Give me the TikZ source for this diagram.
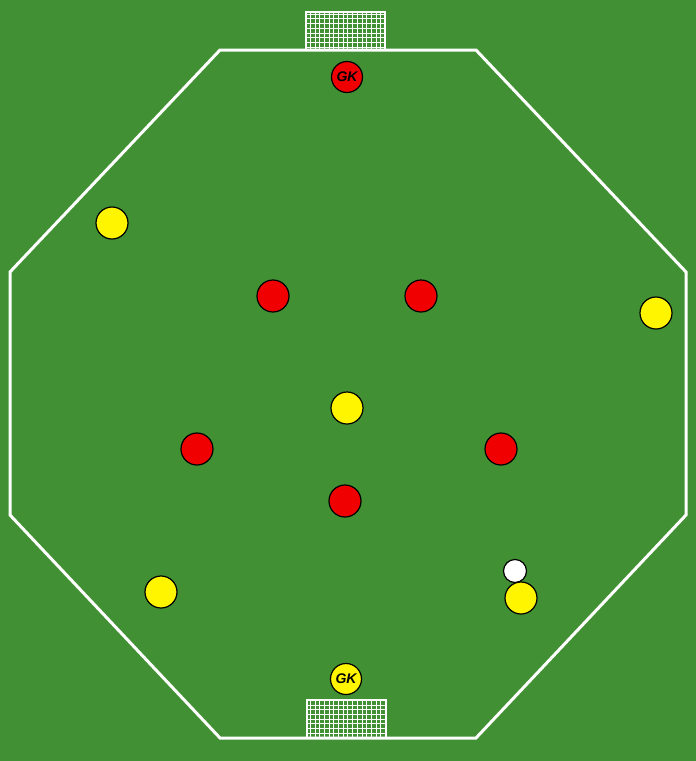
\documentclass[tikz,border=0pt]{standalone}
\usepackage{fontspec}
\setmainfont{Liberation Sans}
\usepackage{tikz}
\usetikzlibrary{positioning}
\definecolor{pitch}{RGB}{66,144,52}
\definecolor{kitred}{RGB}{240,0,0}
\definecolor{kityellow}{RGB}{255,245,0}

\begin{document}
\begin{tikzpicture}[x=1pt, y=-1pt,
  line/.style={white, line width=3pt, line join=miter},
  net/.style={white, line width=0.7pt, step=4.7pt},
  post/.style={white, line width=1.8pt},
  player/.style={circle, draw=black, line width=1.2pt, minimum size=32pt, inner sep=0pt},
  red/.style={player, fill=kitred},
  yellow/.style={player, fill=kityellow},
  keeper/.style={font=\fontsize{14}{14}\selectfont\bfseries\itshape},
  ball/.style={circle, draw=black, line width=1.2pt, fill=white, minimum size=23pt, inner sep=0pt}]
  % pitch
  \fill[pitch] (0,0) rectangle (696,761);
  \useasboundingbox (0,0) rectangle (696,761);
  \draw[line] (220,50) -- (476,50) -- (686,272) -- (686,515) -- (476,738)
    -- (220,738) -- (10,515) -- (10,272) -- cycle;
  % goals
  \draw[net] (306,12) grid (385,50);
  \draw[post] (306,50) |- (385,12) -- (385,50);
  \draw[net] (307,700) grid (386,738);
  \draw[post] (307,738) |- (386,700) -- (386,738);
  % red team
  \node[red, minimum size=31pt] (gkR) at (347,77) {};
  \node[keeper] at (gkR) {GK};
  \node[red] (r1) at (273,296) {};
  \node[red] (r2) at (421,296) {};
  \node[red] (r3) at (197,449) {};
  \node[red] (r4) at (501,449) {};
  \node[red] (r5) at (345,501) {};
  % yellow team
  \node[yellow, minimum size=31pt] (gkY) at (346,679) {};
  \node[keeper] at (gkY) {GK};
  \node[yellow] (y1) at (112,223) {};
  \node[yellow] (y2) at (656,313) {};
  \node[yellow] (y3) at (347,408) {};
  \node[yellow] (y4) at (161,592) {};
  \node[ball] (b) at (515,571) {};
  \node[yellow] (y5) at (521,598) {};
\end{tikzpicture}
\end{document}
